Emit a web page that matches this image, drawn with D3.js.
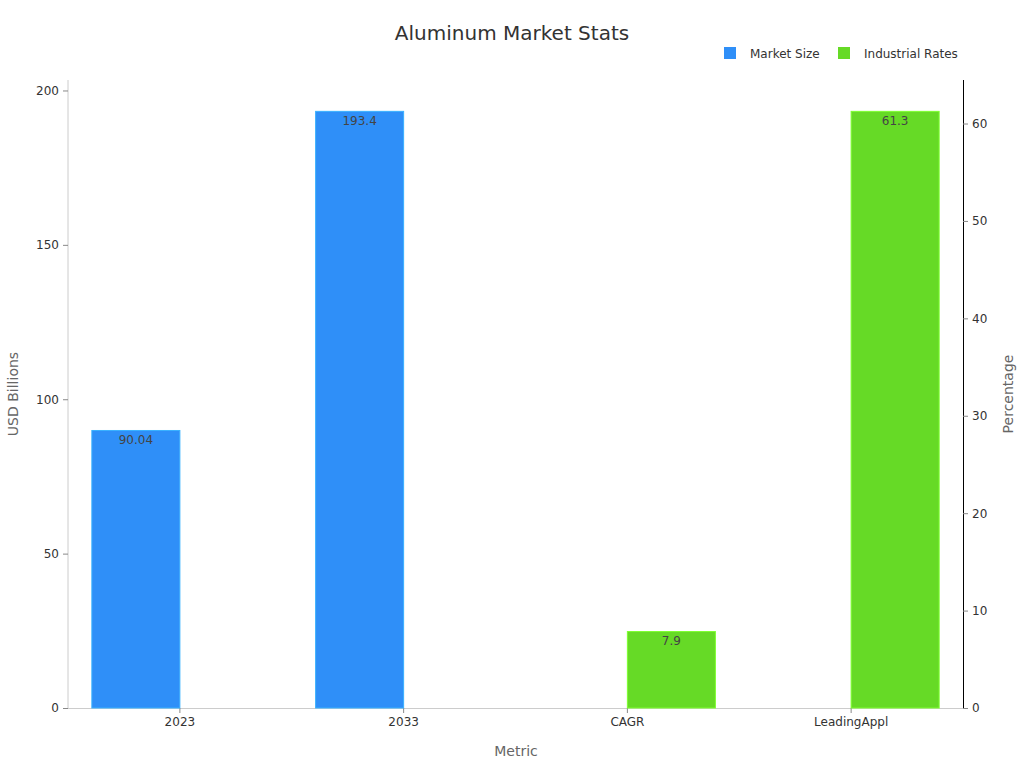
<!DOCTYPE html>
<html><head><meta charset="utf-8">
<script src="https://cdn.jsdelivr.net/npm/d3@7"></script>
<style>body{margin:0;background:#fff;font-family:"DejaVu Sans",sans-serif}</style>
</head><body><svg id="c" width="1024" height="768"></svg>
<script>
const categories = ["2023", "2033", "CAGR", "LeadingAppl"];
const marketSize = [90.04, 193.4, null, null];
const industrialRates = [null, null, 7.9, 61.3];
const seriesNames = ["Market Size", "Industrial Rates"];
const colors = ["#2f8ff8", "#66da26"];
const leftTicks = [0, 50, 100, 150, 200];
const rightTicks = [0, 10, 20, 30, 40, 50, 60];

const svg = d3.select("#c");
const m = {l: 68, r: 963, t: 81, b: 708};
const x = d3.scaleBand().domain(categories).range([m.l, m.r]);
const xs = d3.scaleBand().domain([0, 1]).range([0, x.bandwidth()]).paddingOuter(0.271).paddingInner(0);
const yL = d3.scaleLinear().domain([0, d3.max(marketSize) * 1.05]).range([m.b, m.t]);
const yR = d3.scaleLinear().domain([0, d3.max(industrialRates) * 1.05]).range([m.b, m.t]);

svg.append("text").attr("x", 512).attr("y", 40).attr("text-anchor", "middle")
  .attr("font-size", 20).attr("fill", "#333").text("Aluminum Market Stats");

// legend
const leg = [{x: 724, tx: 750}, {x: 838, tx: 864}];
seriesNames.forEach((n, i) => {
  svg.append("rect").attr("x", leg[i].x).attr("y", 47).attr("width", 12).attr("height", 12).attr("fill", colors[i]);
  svg.append("text").attr("x", leg[i].tx).attr("y", 57.5).attr("font-size", 12).attr("fill", "#333").text(n);
});

// axes
const gL = svg.append("g").attr("transform", `translate(${m.l},0)`)
  .call(d3.axisLeft(yL).tickValues(leftTicks).tickSize(5).tickPadding(4));
gL.select(".domain").attr("stroke", "#ccc").attr("d", `M0,${m.t - 1}V${m.b}`);
gL.selectAll(".tick line").attr("stroke", "#888");
gL.selectAll(".tick text").attr("font-size", 12).attr("fill", "#333").attr("font-family", "DejaVu Sans");

const gR = svg.append("g").attr("transform", `translate(${m.r},0)`)
  .call(d3.axisRight(yR).tickValues(rightTicks).tickSize(5).tickPadding(4));
gR.select(".domain").attr("stroke", "#000").attr("d", `M0.5,${m.t - 1}V${m.b}`);
gR.selectAll(".tick line").attr("stroke", "#888");
gR.selectAll(".tick text").attr("font-size", 12).attr("fill", "#333").attr("font-family", "DejaVu Sans");

const gX = svg.append("g").attr("transform", `translate(0,${m.b})`)
  .call(d3.axisBottom(x).tickSize(5).tickPadding(4));
gX.select(".domain").attr("stroke", "#ccc").attr("d", `M${m.l},0.5H${m.r}`);
gX.selectAll(".tick line").attr("stroke", "#888");
gX.selectAll(".tick text").attr("font-size", 12).attr("fill", "#333").attr("font-family", "DejaVu Sans");

// bars
const series = [
  {vals: marketSize, y: yL, i: 0},
  {vals: industrialRates, y: yR, i: 1}
];
series.forEach(s => {
  const g = svg.append("g");
  categories.forEach((c, k) => {
    const v = s.vals[k];
    if (v == null) return;
    const bx = x(c) + xs(s.i), bw = xs.bandwidth();
    const top = s.y(v);
    g.append("rect").attr("x", bx).attr("y", top + 0.5).attr("width", bw).attr("height", m.b - top - 0.5)
      .attr("fill", colors[s.i]).attr("stroke", d3.color(colors[s.i]).brighter(0.6)).attr("stroke-width", 1);
    g.append("text").attr("x", bx + bw / 2).attr("y", top + 14).attr("text-anchor", "middle")
      .attr("font-size", 12).attr("fill", "#444").text(v);
  });
});

// axis titles
svg.append("text").attr("transform", "translate(18,394) rotate(-90)").attr("text-anchor", "middle")
  .attr("font-size", 14).attr("fill", "#666").text("USD Billions");
svg.append("text").attr("transform", "translate(1013,394) rotate(-90)").attr("text-anchor", "middle")
  .attr("font-size", 14).attr("fill", "#666").text("Percentage");
svg.append("text").attr("x", 516).attr("y", 756).attr("text-anchor", "middle")
  .attr("font-size", 14).attr("fill", "#666").text("Metric");
</script></body></html>
